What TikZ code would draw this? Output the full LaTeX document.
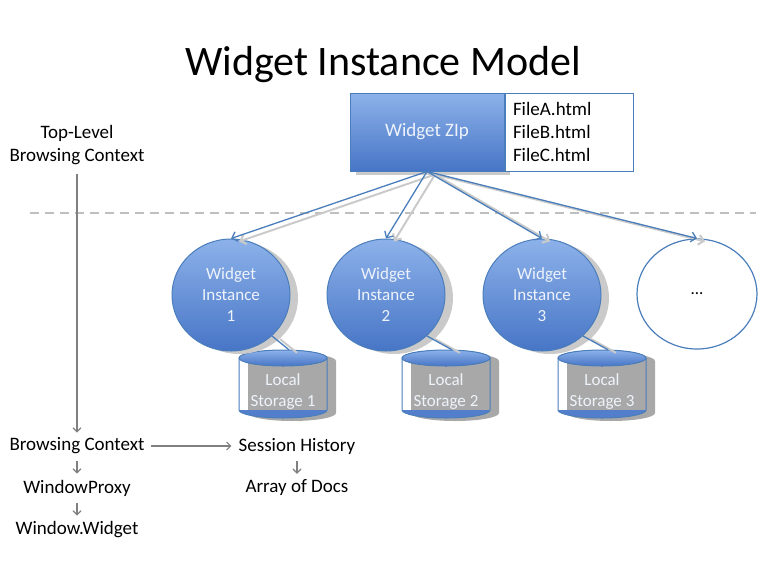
\documentclass[tikz,border=0pt]{standalone}
\usepackage{fontspec}
\setmainfont{Carlito}
\usetikzlibrary{shapes.geometric}
\usetikzlibrary{arrows.meta}
\usetikzlibrary{shadows}
\usetikzlibrary{positioning}

\definecolor{lineblue}{HTML}{4A7EBB}
\definecolor{topblue}{HTML}{8DB2EA}
\definecolor{botblue}{HTML}{4775C6}
\definecolor{paleblue}{HTML}{EEF3FB}
\definecolor{storegray}{HTML}{A8A8A8}
\definecolor{shadegray}{HTML}{CACACA}
\definecolor{sepgray}{HTML}{BFBFBF}
\definecolor{flowgray}{HTML}{808080}

\begin{document}
\begin{tikzpicture}
	[x=1pt, y=-1pt, node distance=42pt,
	txt/.style = {font=\fontsize{19}{23}\selectfont, align=center, inner sep=1pt},
	inst/.style = {ellipse, draw=lineblue, line width=1pt, top color=topblue, bottom color=botblue, text=paleblue, minimum width=118pt, minimum height=112pt, inner sep=0pt, align=center, font=\fontsize{17}{21}\selectfont, drop shadow={shadow xshift=8pt, shadow yshift=-3pt, fill=shadegray, opacity=1}},
	more/.style = {ellipse, draw=lineblue, line width=1.2pt, fill=white, minimum width=120pt, minimum height=110pt, font=\fontsize{17}{21}\selectfont},
	store/.style = {minimum width=88pt, minimum height=84pt, inner sep=0pt, align=center, text=paleblue, font=\fontsize{17}{21}\selectfont},
	link/.style = {draw=lineblue, line width=1.3pt, -{Straight Barb[length=5pt,width=10pt]}},
	ghost/.style = {link, draw=shadegray, line width=2pt, transform canvas={shift={(8pt,-3pt)}}},
	flow/.style = {draw=flowgray, line width=1.2pt, -{Straight Barb[length=4pt,width=8pt]}}]
	\useasboundingbox (0,0) rectangle (768,576);

	\node[font=\fontsize{42}{50}\selectfont] (title) at (383,65) {Widget Instance Model};

	% widget package
	\node[draw=lineblue, line width=1pt, top color=topblue, bottom color=botblue, text=paleblue, minimum width=154pt, minimum height=78pt, font=\fontsize{19}{23}\selectfont, drop shadow={shadow xshift=6pt, shadow yshift=-4pt, fill=shadegray, opacity=1}] (zip) at (427,132) {Widget ZIp};
	\node[draw=lineblue, line width=1pt, fill=white, anchor=west, inner xsep=8pt, text width=112pt, minimum height=78pt, align=left, font=\fontsize{19}{23}\selectfont] (files) at (zip.east) {FileA.html\\FileB.html\\FileC.html};

	\coordinate (sepL) at (30,213);
	\coordinate (sepR) at (756,213);
	\draw[sepgray, line width=1.5pt, dash pattern=on 9pt off 6pt] (sepL) -- (sepR);

	% storage
	\foreach \i/\x in {1/283, 2/446, 3/602} {
		\fill[storegray] (\x-35,361) -- (\x-35,413) arc[start angle=180, end angle=360, x radius=44pt, y radius=8pt] -- (\x+53,361) arc[start angle=0, end angle=180, x radius=44pt, y radius=8pt] -- cycle;
		\fill[top color=topblue, bottom color=botblue] (\x,358) ellipse[x radius=44pt, y radius=8pt];
		\fill[botblue!85!topblue] (\x-44,410) arc[start angle=180, end angle=360, x radius=44pt, y radius=8pt] -- cycle;
		\draw[lineblue, line width=1pt] (\x-44,358) -- (\x-44,410) arc[start angle=180, end angle=360, x radius=44pt, y radius=8pt] -- (\x+44,358);
		\draw[lineblue, line width=1pt] (\x,358) ellipse[x radius=44pt, y radius=8pt];
		\node[store] (c\i) at (\x,392) {Local\\Storage \i};
	}

	\node[inst] (e1) at (231,295) {Widget\\Instance\\1};
	\node[inst] (e2) at (386,295) {Widget\\Instance\\2};
	\node[inst] (e3) at (542,295) {Widget\\Instance\\3};
	\node[more] (e4) at (697,294) {...};

	\foreach \i in {1,2,3,4}
		\draw[ghost] (zip.south) -- (e\i.north);
	\foreach \i in {1,2,3,4}
		\draw[link] (zip.south) -- (e\i.north);
	\foreach \i in {1,2,3} {
		\draw[ghost, -] (e\i.-45) -- ([xshift=6pt]c\i.north);
		\draw[link, -] (e\i.-45) -- ([xshift=6pt]c\i.north);
	}

	% browsing contexts
	\node[txt] (top) at (77,145) {Top-Level\\Browsing Context};
	\node[txt] (bc) at (77,446) {Browsing Context};
	\node[txt, below of=bc] (wp) {WindowProxy};
	\node[txt, below of=wp] (ww) {Window.Widget};
	\node[txt] (sh) at (297,446) {Session History};
	\node[txt, below of=sh] (ad) {Array of Docs};
	\draw[flow, shorten <=8pt, shorten >=4pt] (top) -- (bc);
	\draw[flow, shorten <=6pt, shorten >=5pt] (bc) -- (wp);
	\draw[flow, shorten <=6pt, shorten >=5pt] (wp) -- (ww);
	\draw[flow, shorten <=6pt, shorten >=5pt] (sh) -- (ad);
	\draw[flow, shorten <=5pt, shorten >=6pt] (bc) -- (sh);
\end{tikzpicture}
\end{document}
